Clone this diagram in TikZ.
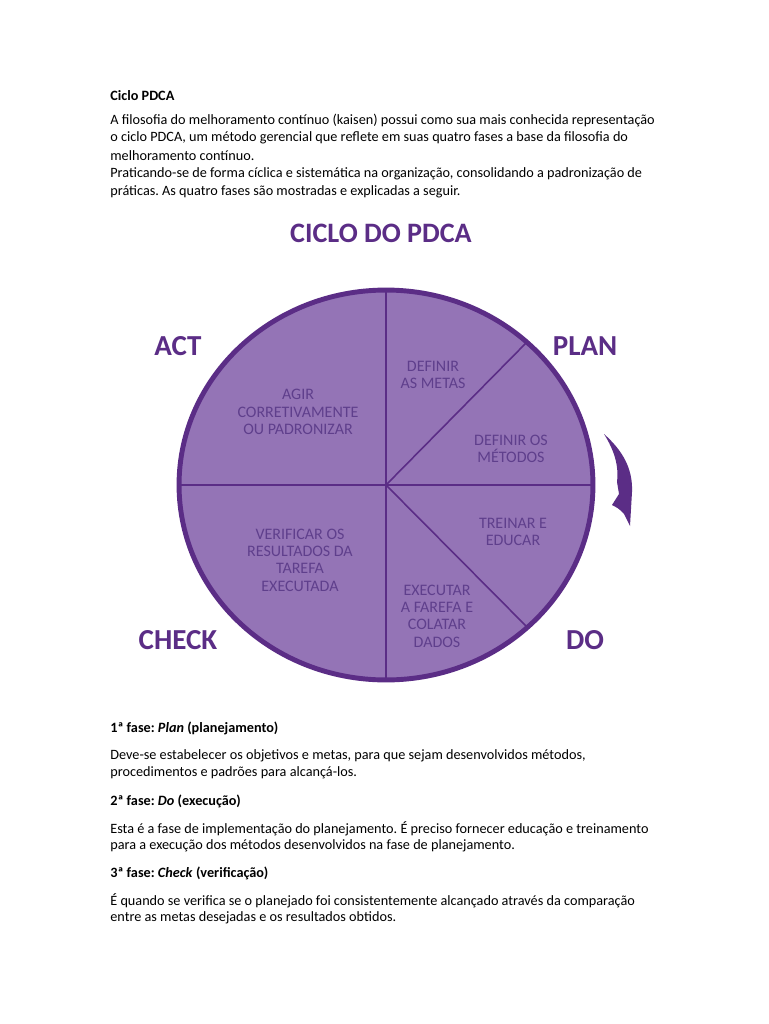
\documentclass[tikz,border=0pt]{standalone}
\usepackage{fontspec}
\setmainfont{Carlito}
\usetikzlibrary{positioning}
\definecolor{pdcadark}{HTML}{5B2D86}
\definecolor{pdcafill}{HTML}{9474B6}
\definecolor{pdcatext}{HTML}{5F3F8C}
\frenchspacing

\begin{document}
\begin{tikzpicture}[x=0.02cm,y=-0.02cm,
    txt/.style={anchor=west,inner sep=0pt,font=\fontsize{8.1}{10}\selectfont},
    hd/.style={anchor=west,inner sep=0pt,font=\fontsize{8.1}{10}\selectfont\bfseries},
    phase/.style={inner sep=0pt,text=pdcadark,font=\fontsize{16.5}{18}\selectfont\bfseries},
    inbox/.style={inner sep=0pt,align=center,text=pdcatext,font=\fontsize{9.1}{9.9}\selectfont}]
    \fill[white] (0,0) rectangle (768,1024);
    \useasboundingbox (0,0) rectangle (768,1024);

    % texto de cima
    \node[hd]  (tit)  at (110,96)  {Ciclo PDCA};
    \node[txt] (p1)   at (110,120) {A filosofia do melhoramento contínuo (kaisen) possui como sua mais conhecida representação};
    \node[txt] (p2)   at (110,138) {o ciclo PDCA, um método gerencial que reflete em suas quatro fases a base da filosofia do};
    \node[txt] (p3)   at (110,156) {melhoramento contínuo.};
    \node[txt] (p4)   at (110,174) {Praticando-se de forma cíclica e sistemática na organização, consolidando a padronização de};
    \node[txt] (p5)   at (110,192) {práticas. As quatro fases são mostradas e explicadas a seguir.};

    % o ciclo
    \node[phase, font=\fontsize{16}{18}\selectfont\bfseries] (ciclo) at (381,233) {CICLO DO PDCA};

    \coordinate (c)   at (386,485);
    \coordinate (top) at (386,290);
    \coordinate (bot) at (386,680);
    \coordinate (lft) at (179,485);
    \coordinate (rgt) at (593,485);
    \coordinate (ur)  at (527,342);
    \coordinate (lr)  at (527,627);

    \fill[pdcafill] (c) ellipse [x radius=4.14cm, y radius=3.9cm];
    \draw[pdcadark, line width=0.9pt] (top) -- (bot);
    \draw[pdcadark, line width=0.9pt] (lft) -- (rgt);
    \draw[pdcadark, line width=0.9pt] (c) -- (ur);
    \draw[pdcadark, line width=0.9pt] (c) -- (lr);
    \draw[pdcadark, line width=2.8pt] (c) ellipse [x radius=4.14cm, y radius=3.9cm];

    \node[phase] (act)   at (178,346) {ACT};
    \node[phase] (plan)  at (585,346) {PLAN};
    \node[phase] (check) at (178,640) {CHECK};
    \node[phase] (do)    at (585,640) {DO};

    \node[inbox] (metas)  at (433,375) {DEFINIR\\AS METAS};
    \node[inbox] (agir)   at (298,412) {AGIR\\CORRETIVAMENTE\\OU PADRONIZAR};
    \node[inbox] (metod)  at (511,449) {DEFINIR OS\\MÉTODOS};
    \node[inbox] (treino) at (513,532) {TREINAR E\\EDUCAR};
    \node[inbox] (verif)  at (300,560) {VERIFICAR OS\\RESULTADOS DA\\TAREFA\\EXECUTADA};
    \node[inbox] (exec)   at (437,616) {EXECUTAR\\A FAREFA E\\COLATAR\\DADOS};

    % seta curva
    \fill[pdcadark] (604,434) .. controls (622,450) and (633,468) .. (632,492)
        -- (630,526) -- (624,514) .. controls (620,509) and (616,507) .. (612,505)
        -- (619,494) -- (617,482) .. controls (619,465) and (614,450) .. (604,434) -- cycle;

    % fases
    \node[hd]  (f1) at (110,728) {1ª fase: \textit{Plan} (planejamento)};
    \node[txt] (t1) at (110,756) {Deve-se estabelecer os objetivos e metas, para que sejam desenvolvidos métodos,};
    \node[txt] (t2) at (110,773) {procedimentos e padrões para alcançá-los.};
    \node[hd]  (f2) at (110,801) {2ª fase: \textit{Do} (execução)};
    \node[txt] (t3) at (110,829) {Esta é a fase de implementação do planejamento. É preciso fornecer educação e treinamento};
    \node[txt] (t4) at (110,846) {para a execução dos métodos desenvolvidos na fase de planejamento.};
    \node[hd]  (f3) at (110,873) {3ª fase: \textit{Check} (verificação)};
    \node[txt] (t5) at (110,901) {É quando se verifica se o planejado foi consistentemente alcançado através da comparação};
    \node[txt] (t6) at (110,918) {entre as metas desejadas e os resultados obtidos.};
\end{tikzpicture}
\end{document}
